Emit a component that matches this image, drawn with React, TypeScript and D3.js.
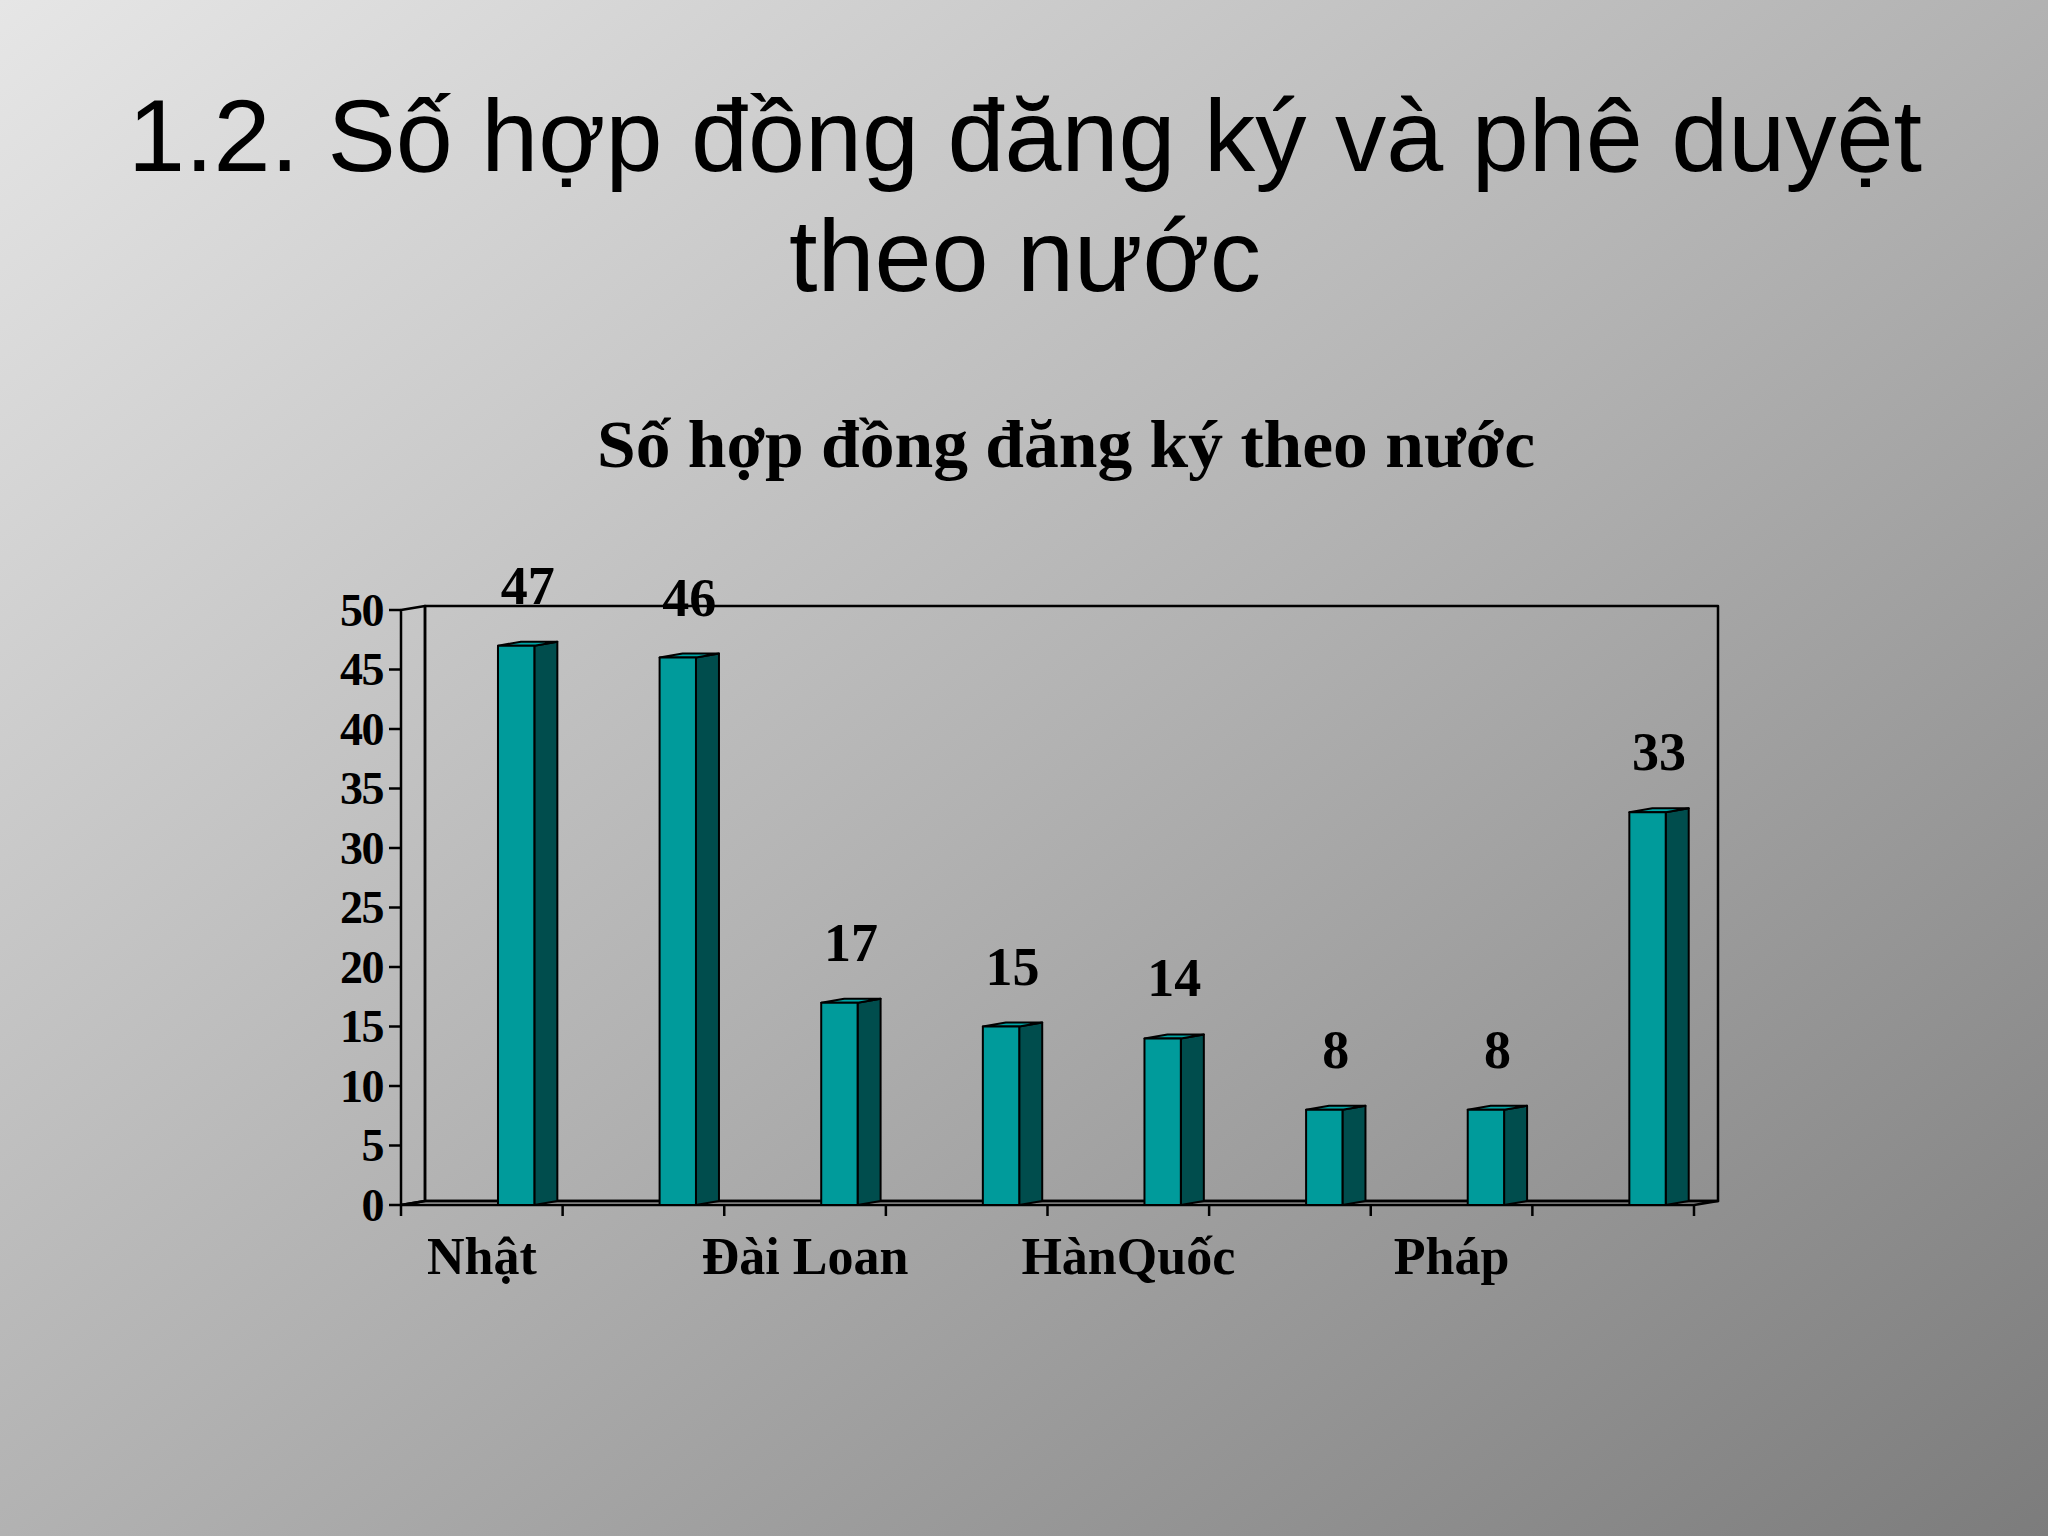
import React from "react";
import * as d3 from "d3";

// ---- data ----
const slideTitleLines = ["1.2. Số hợp đồng đăng ký và phê duyệt", "theo nước"];
const chartTitle = "Số hợp đồng đăng ký theo nước";
// 8 categories; only every other label is shown in the original chart
const categoryLabels = ["Nhật", "", "Đài Loan", "", "HànQuốc", "", "Pháp", ""];
const values = [47, 46, 17, 15, 14, 8, 8, 33];
const yTicks = [0, 5, 10, 15, 20, 25, 30, 35, 40, 45, 50];

const W = 2048;
const H = 1536;

export default function App() {
  const left = 401;
  const right = 1694;
  const bottom = 1205;
  const top = 610;
  const depthX = 24;
  const depthY = -4;

  const x = d3
    .scaleBand<number>()
    .domain(values.map((_, i) => i))
    .range([left, right])
    .paddingInner(0)
    .paddingOuter(0);
  const y = d3.scaleLinear().domain([0, 50]).range([bottom, top]);
  const step = x.step();
  const barOffset = step * 0.6;
  const barW = step * 0.225;
  const barDX = 23;
  const barDY = -4;

  const pts = (arr: [number, number][]) => arr.map((p) => p.join(",")).join(" ");

  const serif = "'Liberation Serif', 'Times New Roman', serif";

  return (
    <svg
      width={W}
      height={H}
      viewBox={`0 0 ${W} ${H}`}
      style={{ position: "absolute", left: 0, top: 0, display: "block" }}
    >
      <defs>
        <linearGradient id="bg" x1="0" y1="0" x2="1" y2="1">
          <stop offset="0%" stopColor="#e6e6e6" />
          <stop offset="50%" stopColor="#b2b2b2" />
          <stop offset="100%" stopColor="#7c7c7c" />
        </linearGradient>
      </defs>
      <rect x={0} y={0} width={W} height={H} fill="url(#bg)" />

      {/* slide title */}
      <g fontFamily="'Liberation Sans', Arial, sans-serif" fontSize={102.5} fill="#000" textAnchor="middle">
        {slideTitleLines.map((t, i) => (
          <text key={i} x={1025} y={171 + i * 120}>
            {t}
          </text>
        ))}
      </g>

      {/* chart title */}
      <text
        x={1066}
        y={467}
        textAnchor="middle"
        fontFamily={serif}
        fontWeight="bold"
        fontSize={68}
        textLength={938}
        lengthAdjust="spacingAndGlyphs"
      >
        {chartTitle}
      </text>

      {/* walls and floor */}
      <g stroke="#000" strokeWidth={2.5} fill="none" strokeLinejoin="round">
        <polygon
          points={pts([
            [left, bottom],
            [right, bottom],
            [right + depthX, bottom + depthY],
            [left + depthX, bottom + depthY],
          ])}
          fill="#a8a8a8"
          fillOpacity={0.25}
        />
        <rect
          x={left + depthX}
          y={top + depthY}
          width={right - left}
          height={bottom - top}
        />
        <polygon
          points={pts([
            [left, bottom],
            [left, top],
            [left + depthX, top + depthY],
            [left + depthX, bottom + depthY],
          ])}
        />
      </g>

      {/* y axis ticks and labels */}
      <g>
        {yTicks.map((t) => (
          <g key={t}>
            <line x1={left - 12} x2={left} y1={y(t)} y2={y(t)} stroke="#000" strokeWidth={2.5} />
            <text
              x={left - 18}
              y={y(t)}
              textAnchor="end"
              dominantBaseline="central"
              fontFamily={serif}
              fontWeight="bold"
              fontSize={46}
              letterSpacing={-1.5}
            >
              {t}
            </text>
          </g>
        ))}
      </g>

      {/* bars */}
      <g stroke="#000" strokeWidth={2} strokeLinejoin="round">
        {values.map((v, i) => {
          const x0 = (x(i) as number) + barOffset;
          const x1 = x0 + barW;
          const yt = y(v);
          const yb = y(0);
          return (
            <g key={i}>
              <polygon
                points={pts([
                  [x1, yb],
                  [x1, yt],
                  [x1 + barDX, yt + barDY],
                  [x1 + barDX, yb + barDY],
                ])}
                fill="#004d4d"
              />
              <polygon
                points={pts([
                  [x0, yt],
                  [x1, yt],
                  [x1 + barDX, yt + barDY],
                  [x0 + barDX, yt + barDY],
                ])}
                fill="#00a5a5"
              />
              <rect x={x0} y={yt} width={barW} height={yb - yt} fill="#009b9b" />
            </g>
          );
        })}
      </g>

      {/* x axis ticks */}
      <g stroke="#000" strokeWidth={2.5}>
        {d3.range(values.length + 1).map((i) => {
          const xx = left + i * step;
          return <line key={i} x1={xx} x2={xx} y1={bottom} y2={bottom + 11} />;
        })}
      </g>

      {/* data labels */}
      <g fontFamily={serif} fontWeight="bold" fontSize={54} textAnchor="middle">
        {values.map((v, i) => {
          const cx = (x(i) as number) + barOffset + (barW + barDX) / 2;
          return (
            <text key={i} x={cx} y={y(v) - 42}>
              {v}
            </text>
          );
        })}
      </g>

      {/* category labels */}
      <g fontFamily={serif} fontWeight="bold" fontSize={52} textAnchor="middle">
        {categoryLabels.map((c, i) =>
          c ? (
            <text key={i} x={(x(i) as number) + step / 2} y={1274}>
              {c}
            </text>
          ) : null
        )}
      </g>
    </svg>
  );
}
